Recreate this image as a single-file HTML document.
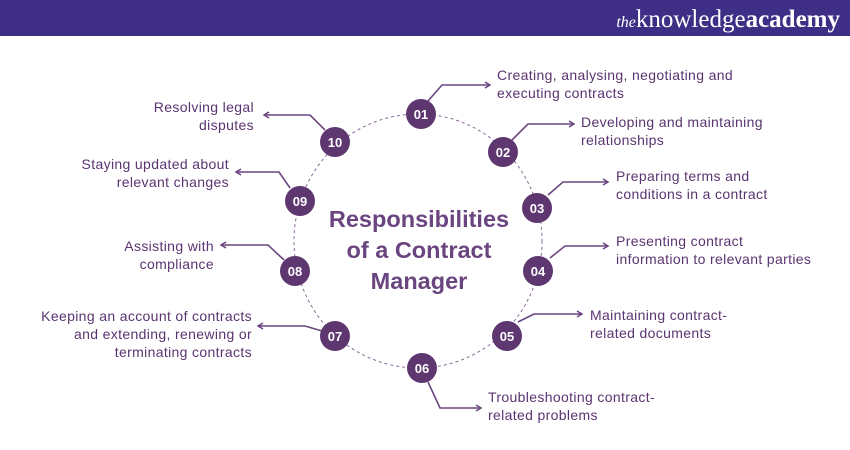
<!DOCTYPE html>
<html><head><meta charset="utf-8"><style>
html,body{margin:0;padding:0;background:#fff;width:850px;height:450px;overflow:hidden}
svg{display:block}
text{font-family:"Liberation Sans",sans-serif}
text.logo{font-family:"Liberation Serif",serif}
</style></head><body>
<svg width="850" height="450" viewBox="0 0 850 450">
<defs><marker id="a" markerWidth="8" markerHeight="8" refX="6" refY="4" orient="auto" markerUnits="userSpaceOnUse"><path d="M1,1 L6,4 L1,7" fill="none" stroke="#6a4580" stroke-width="1.5"/></marker></defs>
<rect x="0" y="0" width="850" height="36" fill="#3f2e85"/>
<text class="logo" x="840" y="27" text-anchor="end" fill="#fff" font-size="25"><tspan font-style="italic" font-size="16">the</tspan>knowledge<tspan font-weight="bold">academy</tspan></text>
<ellipse cx="418" cy="241" rx="124" ry="127" fill="none" stroke="#8a6a98" stroke-width="1" stroke-dasharray="3,3"/>
<g fill="none" stroke="#6a4580" stroke-width="1.6" marker-end="url(#a)">
<polyline points="428,101 442,85 490,85"/>
<polyline points="512,140 528,124 574,124"/>
<polyline points="548,195 563,182 608,182"/>
<polyline points="550,258 565,246 608,246"/>
<polyline points="518,322 534,314 582,314"/>
<polyline points="428,382 440,408 481,408"/>
<polyline points="322,331 305,326 258,326"/>
<polyline points="284,260 268,245 221,245"/>
<polyline points="290,188 279,172 236,172"/>
<polyline points="325,130 310,115 264,115"/>
</g>
<g fill="#5e3770">
<circle cx="421" cy="114" r="15"/><circle cx="503" cy="152" r="15"/><circle cx="537" cy="208" r="15"/><circle cx="538" cy="271" r="15"/><circle cx="507" cy="336" r="15"/><circle cx="422" cy="368" r="15"/><circle cx="335" cy="336" r="15"/><circle cx="295" cy="271" r="15"/><circle cx="300" cy="201" r="15"/><circle cx="335" cy="142" r="15"/>
</g>
<g fill="#fff" font-size="13" font-weight="bold" text-anchor="middle">
<text x="421" y="119">01</text><text x="503" y="157">02</text><text x="537" y="213">03</text><text x="538" y="276">04</text><text x="507" y="341">05</text><text x="422" y="373">06</text><text x="335" y="341">07</text><text x="295" y="276">08</text><text x="300" y="206">09</text><text x="335" y="147">10</text>
</g>
<g fill="#6a4580" font-size="23.5" font-weight="bold" text-anchor="middle">
<text x="419" y="227">Responsibilities</text><text x="419" y="258">of a Contract</text><text x="419" y="289">Manager</text>
</g>
<g fill="#5a3470" font-size="14" letter-spacing="0.35">
<text x="497" y="80">Creating, analysing, negotiating and</text><text x="497" y="98">executing contracts</text>
<text x="581" y="127">Developing and maintaining</text><text x="581" y="145">relationships</text>
<text x="616" y="181">Preparing terms and</text><text x="616" y="199">conditions in a contract</text>
<text x="616" y="246">Presenting contract</text><text x="616" y="264">information to relevant parties</text>
<text x="590" y="320">Maintaining contract-</text><text x="590" y="338">related documents</text>
<text x="488" y="402">Troubleshooting contract-</text><text x="488" y="420">related problems</text>
</g>
<g fill="#5a3470" font-size="14" letter-spacing="0.35" text-anchor="end">
<text x="254" y="112">Resolving legal</text><text x="254" y="130">disputes</text>
<text x="229" y="169">Staying updated about</text><text x="229" y="187">relevant changes</text>
<text x="214" y="251">Assisting with</text><text x="214" y="269">compliance</text>
<text x="252" y="321">Keeping an account of contracts</text><text x="252" y="339">and extending, renewing or</text><text x="252" y="357">terminating contracts</text>
</g>
</svg>
</body></html>
